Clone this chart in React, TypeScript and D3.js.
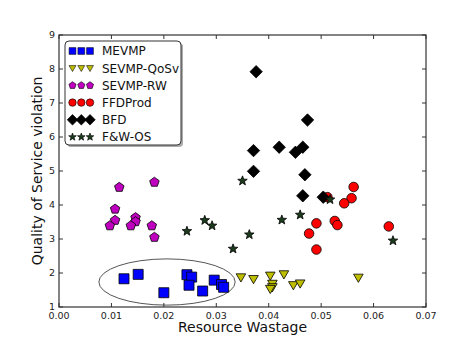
import React from "react";
import * as d3 from "d3";

const W = 474;
const H = 355;

const xTicks = [0, 0.01, 0.02, 0.03, 0.04, 0.05, 0.06, 0.07];
const yTicks = [1, 2, 3, 4, 5, 6, 7, 8, 9];

const mevmpX = [0.0124, 0.0151, 0.02, 0.0244, 0.0253, 0.0248, 0.0274, 0.0296, 0.031, 0.0314];
const mevmpY = [1.83, 1.96, 1.42, 1.95, 1.88, 1.64, 1.47, 1.79, 1.66, 1.58];
const qosvX = [0.0347, 0.0371, 0.0403, 0.0407, 0.0407, 0.0403, 0.0429, 0.0447, 0.046, 0.0571];
const qosvY = [1.87, 1.82, 1.92, 1.68, 1.58, 1.53, 1.96, 1.64, 1.69, 1.86];
const rwX = [0.0115, 0.0182, 0.0107, 0.0107, 0.0097, 0.0146, 0.0146, 0.0137, 0.0177, 0.0182];
const rwY = [4.52, 4.67, 3.88, 3.55, 3.39, 3.63, 3.51, 3.39, 3.39, 3.05];
const ffdX = [0.0562, 0.0558, 0.0544, 0.0512, 0.0491, 0.0526, 0.0531, 0.0629, 0.0477, 0.0491];
const ffdY = [4.53, 4.2, 4.05, 4.23, 3.46, 3.53, 3.41, 3.37, 3.16, 2.69];
const bfdX = [0.0376, 0.0474, 0.0371, 0.042, 0.0451, 0.0465, 0.0371, 0.0469, 0.0465, 0.0504];
const bfdY = [7.92, 6.5, 5.6, 5.7, 5.55, 5.7, 4.99, 4.89, 4.27, 4.23];
const fwX = [0.035, 0.0278, 0.0292, 0.0244, 0.0363, 0.0332, 0.0425, 0.046, 0.0517, 0.0637];
const fwY = [4.71, 3.55, 3.39, 3.23, 3.13, 2.71, 3.56, 3.71, 4.16, 2.95];

const seriesNames = ["MEVMP", "SEVMP-QoSv", "SEVMP-RW", "FFDProd", "BFD", "F&W-OS"];
const seriesColors = ["#0000ff", "#bfbf00", "#bf00bf", "#ff0000", "#000000", "#1c3a1c"];
const seriesShapes = ["square", "tri", "pent", "circle", "diamond", "star"];
const legendScales = [0.68, 0.72, 0.75, 0.78, 0.85, 0.8];

// ellipse annotation in data units
const ellipseCenter = [0.0206, 1.735];
const ellipseRadii = [0.013, 0.68];

const margin = { left: 59, right: 48, top: 35, bottom: 48 };

function markerPath(shape: string): string {
  switch (shape) {
    case "square":
      return "M-5,-5L5,-5L5,5L-5,5Z";
    case "tri":
      return "M-4.8,-3.6L4.8,-3.6L0,4.6Z";
    case "circle":
      return d3.symbol(d3.symbolCircle, 72)() as string;
    case "diamond": {
      const r = 6.2;
      return `M0,${-r}L${r},0L0,${r}L${-r},0Z`;
    }
    case "pent": {
      const r = 5;
      const pts = d3.range(5).map((i) => {
        const a = -Math.PI / 2 + (i * 2 * Math.PI) / 5;
        return [r * Math.cos(a), r * Math.sin(a)];
      });
      return "M" + pts.map((p) => p.join(",")).join("L") + "Z";
    }
    case "star": {
      const R = 5;
      const r = 2.1;
      const pts = d3.range(10).map((i) => {
        const a = -Math.PI / 2 + (i * Math.PI) / 5;
        const rr = i % 2 === 0 ? R : r;
        return [rr * Math.cos(a), rr * Math.sin(a)];
      });
      return "M" + pts.map((p) => p.join(",")).join("L") + "Z";
    }
  }
  return "";
}

export default function App() {
  const x = d3.scaleLinear().domain([0, 0.07]).range([margin.left, W - margin.right]);
  const y = d3.scaleLinear().domain([1, 9]).range([H - margin.bottom, margin.top]);

  const seriesX = [mevmpX, qosvX, rwX, ffdX, bfdX, fwX];
  const seriesY = [mevmpY, qosvY, rwY, ffdY, bfdY, fwY];

  const font = "'DejaVu Sans', sans-serif";
  const axisColor = "#333";
  const x0 = x(0), x1 = x(0.07), y0 = y(1), y1 = y(9);

  const ecx = x(ellipseCenter[0]);
  const ecy = y(ellipseCenter[1]);
  const erx = x(ellipseCenter[0] + ellipseRadii[0]) - ecx;
  const ery = ecy - y(ellipseCenter[1] + ellipseRadii[1]);

  const legX = 65, legY = 41, legW = 116, legH = 104;
  const rowH = 17.2;

  return (
    <svg width={W} height={H} style={{ position: "absolute", left: 0, top: 0, background: "#fff" }}>
      <rect x={0} y={0} width={W} height={H} fill="#fff" />
      {/* ellipse annotation */}
      <ellipse cx={ecx} cy={ecy} rx={erx} ry={ery} fill="none" stroke="#555" strokeWidth={1} />
      {/* data */}
      {seriesX.map((xs, si) => (
        <g key={si}>
          {xs.map((xv, i) => (
            <path
              key={i}
              d={markerPath(seriesShapes[si])}
              transform={`translate(${x(xv)},${y(seriesY[si][i])})`}
              fill={seriesColors[si]}
              stroke="#000"
              strokeWidth={0.8}
            />
          ))}
        </g>
      ))}
      {/* frame */}
      <rect x={x0} y={y1} width={x1 - x0} height={y0 - y1} fill="none" stroke={axisColor} strokeWidth={1.2} />
      {/* x ticks */}
      {xTicks.map((t) => (
        <g key={"x" + t}>
          <line x1={x(t)} x2={x(t)} y1={y0} y2={y0 - 4} stroke={axisColor} />
          <line x1={x(t)} x2={x(t)} y1={y1} y2={y1 + 4} stroke={axisColor} />
          <text x={x(t)} y={y0 + 11.5} textAnchor="middle" fontFamily={font} fontSize={9.5} fill="#222">
            {t.toFixed(2)}
          </text>
        </g>
      ))}
      {/* y ticks */}
      {yTicks.map((t) => (
        <g key={"y" + t}>
          <line x1={x0} x2={x0 + 4} y1={y(t)} y2={y(t)} stroke={axisColor} />
          <line x1={x1} x2={x1 - 4} y1={y(t)} y2={y(t)} stroke={axisColor} />
          <text x={x0 - 4} y={y(t)} dy="0.35em" textAnchor="end" fontFamily={font} fontSize={9.5} fill="#222">
            {t}
          </text>
        </g>
      ))}
      {/* axis labels */}
      <text x={(x0 + x1) / 2} y={332} textAnchor="middle" fontFamily={font} fontSize={14} fill="#111">
        Resource Wastage
      </text>
      <text
        transform={`translate(42,${(y0 + y1) / 2}) rotate(-90)`}
        textAnchor="middle"
        fontFamily={font}
        fontSize={14}
        fill="#111"
      >
        Quality of Service violation
      </text>
      {/* legend */}
      <rect x={legX + 2} y={legY + 2} width={legW} height={legH} rx={4} fill="#aaa" />
      <rect x={legX} y={legY} width={legW} height={legH} rx={4} fill="#fff" stroke="#333" strokeWidth={1} />
      {seriesNames.map((name, si) => {
        const cy = legY + 10 + si * rowH;
        return (
          <g key={name}>
            {[72.5, 81.3, 90].map((mx, k) => (
              <path
                key={k}
                d={markerPath(seriesShapes[si])}
                transform={`translate(${mx},${cy}) scale(${legendScales[si]})`}
                fill={seriesColors[si]}
                stroke="#000"
                strokeWidth={0.8}
              />
            ))}
            <text x={102} y={cy} dy="0.36em" fontFamily={font} fontSize={12} fill="#111">
              {name}
            </text>
          </g>
        );
      })}
    </svg>
  );
}
